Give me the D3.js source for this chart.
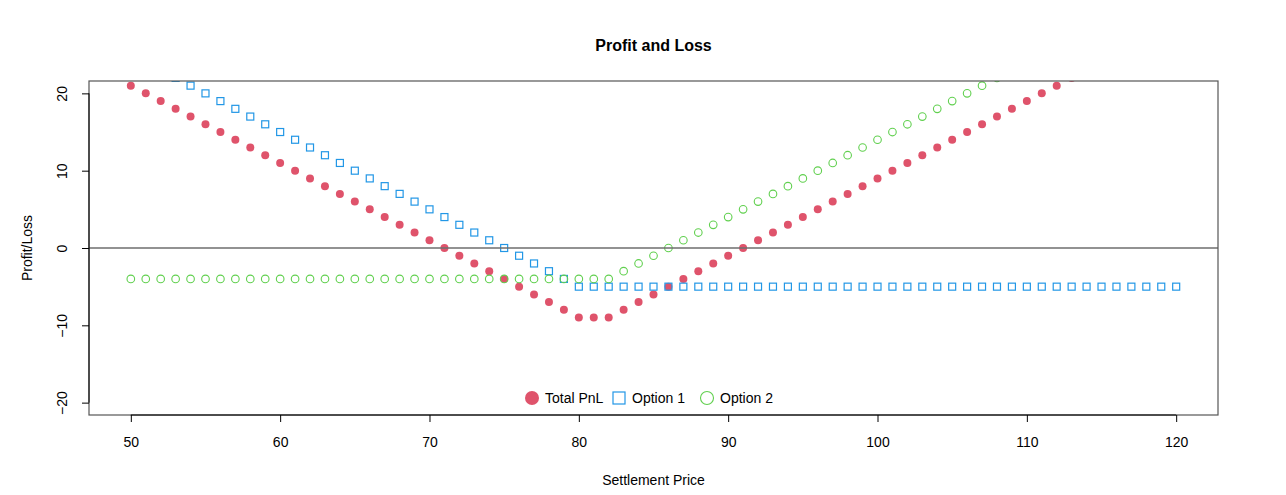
<!DOCTYPE html>
<html>
<head>
<meta charset="utf-8">
<script src="https://cdn.jsdelivr.net/npm/d3@7"></script>
<style>
  body { margin: 0; background: #fff; }
  text { font-family: "Liberation Sans", Arial, sans-serif; fill: #000; }
</style>
</head>
<body>
<div id="chart"></div>
<script>
// settlement prices and P&L per leg
var price = [50,51,52,53,54,55,56,57,58,59,60,61,62,63,64,65,66,67,68,69,
             70,71,72,73,74,75,76,77,78,79,80,81,82,83,84,85,86,87,88,89,
             90,91,92,93,94,95,96,97,98,99,100,101,102,103,104,105,106,107,108,109,
             110,111,112,113,114,115,116,117,118,119,120];

var totalPnl = [21,20,19,18,17,16,15,14,13,12,11,10,9,8,7,6,5,4,3,2,
                1,0,-1,-2,-3,-4,-5,-6,-7,-8,-9,-9,-9,-8,-7,-6,-5,-4,-3,-2,
                -1,0,1,2,3,4,5,6,7,8,9,10,11,12,13,14,15,16,17,18,
                19,20,21,22,23,24,25,26,27,28,29];

var option1 = [25,24,23,22,21,20,19,18,17,16,15,14,13,12,11,10,9,8,7,6,
               5,4,3,2,1,0,-1,-2,-3,-4,-5,-5,-5,-5,-5,-5,-5,-5,-5,-5,
               -5,-5,-5,-5,-5,-5,-5,-5,-5,-5,-5,-5,-5,-5,-5,-5,-5,-5,-5,-5,
               -5,-5,-5,-5,-5,-5,-5,-5,-5,-5,-5];

var option2 = [-4,-4,-4,-4,-4,-4,-4,-4,-4,-4,-4,-4,-4,-4,-4,-4,-4,-4,-4,-4,
               -4,-4,-4,-4,-4,-4,-4,-4,-4,-4,-4,-4,-4,-3,-2,-1,0,1,2,3,
               4,5,6,7,8,9,10,11,12,13,14,15,16,17,18,19,20,21,22,23,
               24,25,26,27,28,29,30,31,32,33,34];

var xTicks = [50,60,70,80,90,100,110,120];
var yTicks = [-20,-10,0,10,20];
var legendLabels = ["Total PnL", "Option 1", "Option 2"];

var colTotal = "#DF536B", colOpt1 = "#2297E6", colOpt2 = "#61D04F";

(function(){
  var W = 1286, H = 495;
  var box = { left: 89, right: 1218, top: 81, bottom: 415 };

  var svg = d3.select("#chart")
    .append("svg")
      .attr("width", W)
      .attr("height", H);

  // scales (R style 4% padding)
  var x = d3.scaleLinear()
    .domain([47.2, 122.8])
    .range([box.left, box.right]);
  var y = d3.scaleLinear()
    .domain([-21.6, 21.6])
    .range([box.bottom, box.top]);

  svg.append("clipPath").attr("id", "plotclip")
    .append("rect")
      .attr("x", box.left).attr("y", box.top)
      .attr("width", box.right - box.left)
      .attr("height", box.bottom - box.top);

  var plot = svg.append("g").attr("clip-path", "url(#plotclip)");

  var rows = price.map(function(p, i) {
    return { p: p, t: totalPnl[i], o1: option1[i], o2: option2[i] };
  });

  // Total PnL - filled circles
  plot.selectAll("circle.tot")
    .data(rows).enter().append("circle")
      .attr("class", "tot")
      .attr("cx", function(d) { return x(d.p); })
      .attr("cy", function(d) { return y(d.t); })
      .attr("r", 4)
      .attr("fill", colTotal);

  // Option 1 - open squares
  plot.selectAll("rect.o1")
    .data(rows).enter().append("rect")
      .attr("class", "o1")
      .attr("x", function(d) { return x(d.p) - 3.5; })
      .attr("y", function(d) { return y(d.o1) - 3.5; })
      .attr("width", 7).attr("height", 7)
      .attr("fill", "none")
      .attr("stroke", colOpt1)
      .attr("stroke-width", 1.2);

  // Option 2 - open circles
  plot.selectAll("circle.o2")
    .data(rows).enter().append("circle")
      .attr("class", "o2")
      .attr("cx", function(d) { return x(d.p); })
      .attr("cy", function(d) { return y(d.o2); })
      .attr("r", 3.8)
      .attr("fill", "none")
      .attr("stroke", colOpt2)
      .attr("stroke-width", 1.1);

  // zero line
  plot.append("line")
    .attr("x1", box.left).attr("x2", box.right)
    .attr("y1", y(0)).attr("y2", y(0))
    .attr("stroke", "#6e6e6e")
    .attr("stroke-width", 1.6);

  // box
  svg.append("rect")
    .attr("x", box.left).attr("y", box.top)
    .attr("width", box.right - box.left)
    .attr("height", box.bottom - box.top)
    .attr("fill", "none")
    .attr("stroke", "#555")
    .attr("stroke-width", 1.2);

  ///////////////////////////////////////// X Axis
  var xAxis = svg.append("g")
    .attr("transform", "translate(0," + box.bottom + ")")
    .call(d3.axisBottom(x).tickValues(xTicks).tickSize(7).tickPadding(15).tickSizeOuter(0));
  xAxis.select(".domain")
    .attr("d", "M" + x(xTicks[0]) + ",0H" + x(xTicks[xTicks.length - 1]));
  xAxis.selectAll("text")
    .style("font-size", "14px")
    .style("font-family", "Liberation Sans, Arial, sans-serif");

  ///////////////////////////////////////// Y Axis
  var yAxis = svg.append("g")
    .attr("transform", "translate(" + box.left + ",0)")
    .call(d3.axisLeft(y).tickValues(yTicks).tickSize(7).tickSizeOuter(0));
  yAxis.select(".domain")
    .attr("d", "M0," + y(yTicks[0]) + "V" + y(yTicks[yTicks.length - 1]));
  yAxis.selectAll(".tick text")
    .attr("x", null).attr("dy", null)
    .attr("transform", "translate(-27,0) rotate(-90)")
    .attr("text-anchor", "middle")
    .attr("dominant-baseline", "central")
    .style("font-size", "14px")
    .style("font-family", "Liberation Sans, Arial, sans-serif");

  // title and axis labels
  svg.append("text")
    .attr("x", (box.left + box.right) / 2).attr("y", 51)
    .attr("text-anchor", "middle")
    .style("font-size", "16px").style("font-weight", "bold")
    .text("Profit and Loss");

  svg.append("text")
    .attr("x", (box.left + box.right) / 2).attr("y", 485)
    .attr("text-anchor", "middle")
    .style("font-size", "14px")
    .text("Settlement Price");

  svg.append("text")
    .attr("transform", "translate(32," + ((box.top + box.bottom) / 2) + ") rotate(-90)")
    .attr("text-anchor", "middle")
    .style("font-size", "14px")
    .text("Profit/Loss");

  ///////////////////////////////////////// Legend
  var legX = [532, 619, 707];
  var ly = 398;
  var leg = svg.append("g");
  leg.append("circle").attr("cx", legX[0]).attr("cy", ly).attr("r", 7).attr("fill", colTotal);
  leg.append("rect").attr("x", legX[1] - 6).attr("y", ly - 6).attr("width", 12).attr("height", 12)
    .attr("fill", "none").attr("stroke", colOpt1).attr("stroke-width", 1.2);
  leg.append("circle").attr("cx", legX[2]).attr("cy", ly).attr("r", 6.5)
    .attr("fill", "none").attr("stroke", colOpt2).attr("stroke-width", 1.1);
  legendLabels.forEach(function(lab, i) {
    leg.append("text")
      .attr("x", legX[i] + 13).attr("y", ly + 5)
      .style("font-size", "14px")
      .text(lab);
  });
})();
</script>
</body>
</html>
